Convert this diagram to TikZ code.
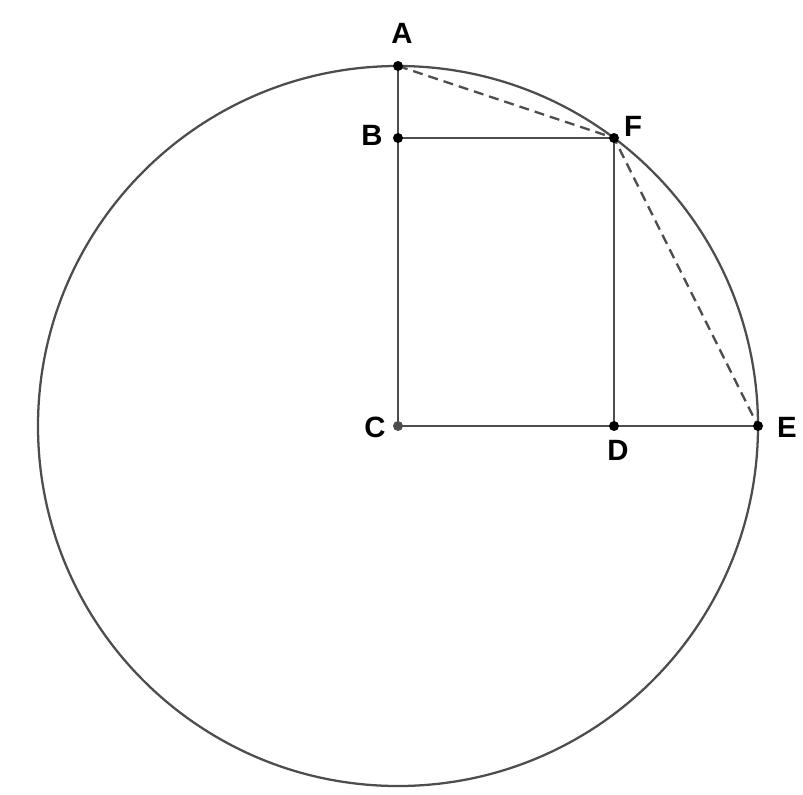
\documentclass[tikz,border=0pt]{standalone}
\usepackage{fontspec}
\setmainfont{Liberation Sans}
\usetikzlibrary{positioning}
\definecolor{linegray}{HTML}{4D4D4D}
\tikzset{
	segment/.style = {draw=linegray, line width=1.7pt},
	chord/.style = {segment, dashed, dash pattern=on 7.5pt off 4.5pt},
	pt/.style = {circle, fill=black, inner sep=0pt, minimum size=7.5pt},
	lbl/.style = {font=\fontsize{22}{26}\selectfont\bfseries, inner sep=0pt}
}
\begin{document}
\begin{tikzpicture}[x=0.75pt,y=-0.75pt]
\useasboundingbox (0,0) rectangle (803,794);
\coordinate (C) at (398,426);
\coordinate (A) at (398,66);
\coordinate (B) at (398,138);
\coordinate (F) at (614,138);
\coordinate (D) at (614,426);
\coordinate (E) at (758,426);
\draw[segment] (C) circle[radius=360];
\draw[segment] (A) -- (C) -- (E);
\draw[segment] (B) -- (F) -- (D);
\draw[chord] (A) -- (F) -- (E);
\foreach \p in {A,B,F,D,E}
	\node[pt] at (\p) {};
\node[pt, fill=linegray] at (C) {};
\node[lbl] at (402,33) {A};
\node[lbl] at (372,135) {B};
\node[lbl] at (633,126) {F};
\node[lbl] at (375,427) {C};
\node[lbl] at (618,450) {D};
\node[lbl] at (787,427) {E};
\end{tikzpicture}
\end{document}
